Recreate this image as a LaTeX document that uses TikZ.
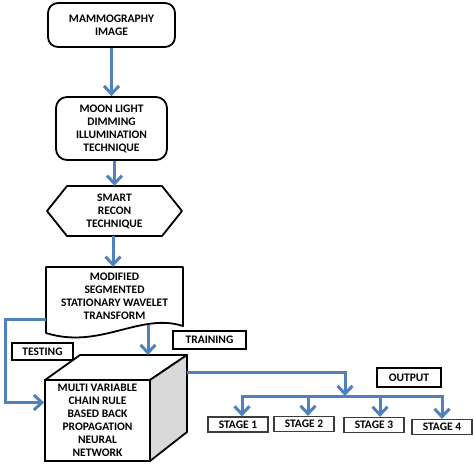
\documentclass[tikz,border=0pt]{standalone}
\usepackage{fontspec}
\setmainfont{Carlito}
\usetikzlibrary{arrows.meta}
\definecolor{arrowblue}{RGB}{79,129,189}
\definecolor{facegray}{RGB}{217,217,217}
\definecolor{stageedge}{RGB}{60,60,60}
\begin{document}
\begin{tikzpicture}[x=1pt,y=-1pt,
  font=\fontsize{11.5}{13}\selectfont\bfseries,
  box/.style={draw=black, line width=1.8pt, align=center, inner sep=0pt, fill=white},
  labelbox/.style={draw=black, line width=1.6pt, inner sep=0pt, fill=white},
  stagebox/.style={draw=stageedge, line width=1.1pt, inner sep=0pt, fill=white, minimum width=60pt, minimum height=15pt},
  outline/.style={draw=black, line width=1.8pt, line join=round},
  flow/.style={draw=arrowblue, line width=3pt, -{Straight Barb[length=8pt,width=15pt]}},
  busline/.style={draw=arrowblue, line width=3pt, line cap=rect}]
\useasboundingbox (0,0) rectangle (474,467);
% Mammography
\node[box, rounded corners=10pt, minimum width=127pt, minimum height=44pt] (m1) at (111.5,25) {MAMMOGRAPHY\\IMAGE};
% Moon light
\node[box, rounded corners=11pt, minimum width=111pt, minimum height=63pt] (m2) at (111.5,128.5) {MOON LIGHT\\DIMMING\\ILLUMINATION\\TECHNIQUE};
% Hexagon
\draw[outline] (47,211) -- (67,186) -- (162,186) -- (182,211) -- (162,236) -- (67,236) -- cycle;
\node[align=center, minimum width=135pt, minimum height=50pt, inner sep=0pt] (hex) at (114.5,211) {SMART\\RECON\\TECHNIQUE};
% Document shape
\draw[outline, fill=white] (46,333) -- (46,267) -- (183,267) -- (183,326) .. controls (140,312) and (100,350) .. (46,333) -- cycle;
\node[align=center, minimum width=137pt, minimum height=58pt, inner sep=0pt] (doc) at (114.5,296) {MODIFIED\\SEGMENTED\\STATIONARY WAVELET\\TRANSFORM};
% Cube
\draw[outline, fill=white] (45,380) -- (80,355) -- (187,355) -- (150,380) -- cycle;
\draw[outline, fill=facegray] (150,380) -- (187,355) -- (187,432) -- (150,461) -- cycle;
\node[box, minimum width=105pt, minimum height=81pt] (nn) at (97.5,420.5) {MULTI VARIABLE\\CHAIN RULE\\BASED BACK\\PROPAGATION\\NEURAL\\NETWORK};
\coordinate (cubeTop) at (148,355);
\coordinate (cubeR) at (187,372);
% Labels
\node[labelbox, minimum width=61pt, minimum height=17pt] (testing) at (42.5,351.5) {TESTING};
\node[labelbox, minimum width=73pt, minimum height=18pt] (training) at (209.5,340) {TRAINING};
\node[labelbox, minimum width=64pt, minimum height=19pt] (output) at (409,377.5) {OUTPUT};
% Stages
\node[stagebox] (s1) at (238,424.5) {STAGE 1};
\node[stagebox] (s2) at (304,424) {STAGE 2};
\node[stagebox] (s3) at (374,425) {STAGE 3};
\node[stagebox] (s4) at (442,427) {STAGE 4};
\coordinate (busL) at (242,396);
\coordinate (busM) at (345,396);
\coordinate (busR) at (442,396);
% Flow arrows
\draw[flow] (m1.south) -- (m2.north);
\draw[flow] ([xshift=3pt]m2.south) -- ([xshift=3pt]m2.south |- hex.north);
\draw[flow] (hex.south -| 113,0) -- (doc.north -| 113,0);
\draw[flow] (doc.south -| cubeTop) -- (cubeTop);
\draw[flow] ([yshift=-23pt]doc.west) -- ++(-40,0) |- ([yshift=18pt]nn.west);
\draw[flow] (cubeR) -| (busM);
\draw[busline] (busL) -- (busR);
\draw[flow] (busL) -- (busL |- s1.north);
\draw[flow] ([xshift=4pt]s2.north |- busL) -- ([xshift=4pt]s2.north);
\draw[flow] ([xshift=6pt]s3.north |- busL) -- ([xshift=6pt]s3.north);
\draw[flow] (busR) -- (busR |- s4.north);
\end{tikzpicture}
\end{document}
